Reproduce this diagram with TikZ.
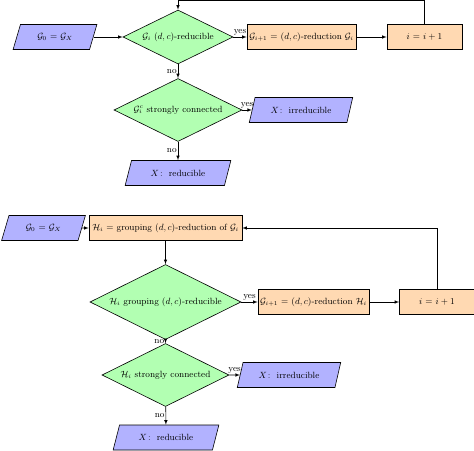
\documentclass[tikz,border=0pt]{standalone}
\usepackage{amsmath}
\usetikzlibrary{shapes.geometric}

\tikzset{
	proc/.style={rectangle, draw, semithick, fill=orange!30, minimum height=25pt, inner xsep=2pt},
	dec/.style={diamond, draw, semithick, fill=green!30, aspect=2, inner sep=0pt},
	io/.style={trapezium, trapezium left angle=72, trapezium right angle=108, trapezium stretches=true, draw, semithick, fill=blue!30, minimum height=25pt, minimum width=104pt},
	arr/.style={-latex, semithick},
	lbl/.style={inner sep=1pt}
}

\begin{document}
\begin{tikzpicture}[x=1pt, y=1pt, font=\small]
	\useasboundingbox (0,0) rectangle (474,450); % Rand wie Vorlage

	% oberer Ablauf
	\node[io, minimum width=84pt] (g0a) at (55,413) {$\mathcal{G}_0$ = $\mathcal{G}_X$};
	\node[dec, minimum width=110pt, minimum height=54pt] (dia1) at (178,413) {$\mathcal{G}_i$ $(d,c)$-reducible};
	\node[proc, minimum width=109pt] (upd1) at (301.5,413) {$\mathcal{G}_{i+1}$ = $(d,c)$-reduction $\mathcal{G}_i$};
	\node[proc, minimum width=75pt] (inc1) at (424.5,413) {$i$ = $i+1$};
	\node[dec, minimum width=128pt, minimum height=63pt] (dia2) at (178,340) {$\mathcal{G}_i^c$ strongly connected};
	\node[io] (irr1) at (301,340) {$X\colon$ irreducible};
	\node[io, minimum width=106pt] (red1) at (178,277) {$X\colon$ reducible};
	\coordinate (lp1) at (178,450);

	\draw[arr] (g0a) -- (dia1);
	\draw[arr] (dia1) -- node[lbl, above] {yes} (upd1);
	\draw[arr] (upd1) -- (inc1);
	\draw[arr] (inc1.north) |- (lp1) -- (dia1.north);
	\draw[arr] (dia1) -- node[lbl, left] {no} (dia2);
	\draw[arr] (dia2.east) -- node[lbl, above] {yes} (irr1);
	\draw[arr] (dia2) -- node[lbl, left] {no} (red1);

	% unterer Ablauf
	\node[io, minimum width=84pt] (g0b) at (43.5,222) {$\mathcal{G}_0$ = $\mathcal{G}_X$};
	\node[proc, minimum width=153pt] (grp) at (165.5,222) {$\mathcal{H}_i$ = grouping $(d,c)$-reduction of $\mathcal{G}_i$};
	\node[dec, minimum width=151pt, minimum height=75pt] (dia3) at (165.5,148) {$\mathcal{H}_i$ grouping $(d,c)$-reducible};
	\node[proc, minimum width=111pt] (upd2) at (313.5,148) {$\mathcal{G}_{i+1}$ = $(d,c)$-reduction $\mathcal{H}_i$};
	\node[proc, minimum width=75pt] (inc2) at (437,148) {$i$ = $i+1$};
	\node[dec, minimum width=127pt, minimum height=63pt] (dia4) at (165.5,75) {$\mathcal{H}_i$ strongly connected};
	\node[io] (irr2) at (289,75) {$X\colon$ irreducible};
	\node[io, minimum width=106pt] (red2) at (166,12.5) {$X\colon$ reducible};

	\draw[arr] (g0b) -- (grp);
	\draw[arr] (grp) -- (dia3);
	\draw[arr] (dia3) -- node[lbl, above] {yes} (upd2);
	\draw[arr] (upd2) -- (inc2);
	\draw[arr] (inc2.north) |- (grp.east);
	\draw[arr] (dia3) -- node[lbl, left] {no} (dia4);
	\draw[arr] (dia4.east) -- node[lbl, above] {yes} (irr2);
	\draw[arr] (dia4) -- node[lbl, left] {no} (red2);

	%\draw[help lines, step=10] (0,0) grid (474,450);
\end{tikzpicture}
\end{document}
